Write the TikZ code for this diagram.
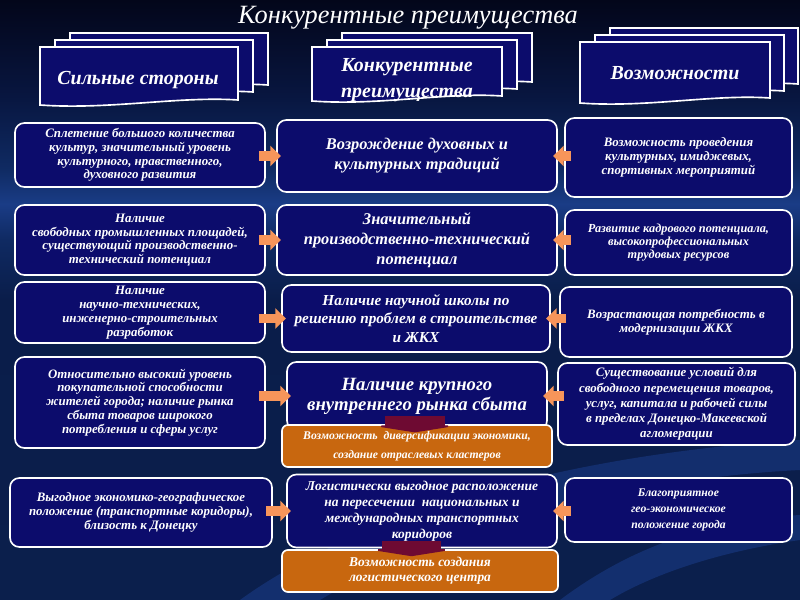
\documentclass[tikz,border=0pt]{standalone}
\usepackage{fontspec}
\setmainfont{Liberation Serif}
\usetikzlibrary{arrows.meta}

\definecolor{boxnavy}{HTML}{0C0C6C}
\definecolor{boxorange}{HTML}{C8670F}
\definecolor{arroworange}{HTML}{F7955A}
\definecolor{arrowmaroon}{HTML}{6E0A32}
\definecolor{bgtop}{HTML}{03061A}
\definecolor{bgdark}{HTML}{081640}
\definecolor{bgmid}{HTML}{0A1D4A}
\definecolor{bgmidb}{HTML}{0F2A62}
\definecolor{bgglow}{HTML}{1A3C86}
\definecolor{bgbot}{HTML}{0B1F4C}
\definecolor{swoosh}{HTML}{1B3F90}

\pgfdeclareverticalshading{slidebg}{100bp}{color(0bp)=(bgbot); color(25bp)=(bgbot); color(50bp)=(bgmid); color(55bp)=(bgmidb); color(58bp)=(bgglow); color(61bp)=(bgmidb); color(67bp)=(bgdark); color(75bp)=(bgtop); color(100bp)=(bgtop)}

\newcommand{\pxu}{0.03cm}
\newcommand{\bxfont}[2]{\fontsize{#1}{#2}\selectfont\bfseries\itshape}
\newcommand{\sheet}[4]{\draw[sheet] (#1,#2) -- (#3,#2) -- (#3,#4-5) .. controls ({#3-0.3*(#3-#1)},#4-9) and ({#1+0.35*(#3-#1)},#4+5) .. (#1,#4) -- cycle;}

\begin{document}
\begin{tikzpicture}[x=0.03cm,y=-0.03cm,
	lbox/.style={draw=white, line width=1.4pt, rounded corners=8pt, fill=boxnavy, text=white, align=center, inner sep=1pt, font=\bxfont{11}{11.8}},
	cbox/.style={lbox, font=\bxfont{14}{17}},
	obox/.style={lbox, fill=boxorange, rounded corners=5pt, font=\bxfont{10}{16}},
	sheet/.style={draw=white, line width=1.4pt, fill=boxnavy},
	headtext/.style={text=white, align=center, font=\bxfont{17}{22}},
	sidearrow/.style={draw=arroworange, line width=8pt, -{Triangle[length=9pt,width=17pt]}, shorten <=-6pt, shorten >=-4pt},
	downarrow/.style={draw=arrowmaroon, line width=51pt, -{Triangle[length=6pt,width=76pt]}}]
	\useasboundingbox (0,0) rectangle (800,600);
	\shade[shading=slidebg] (0,0) rectangle (800,600);
	\fill[swoosh, opacity=0.5] (240,600) .. controls (350,520) and (550,455) .. (800,440) -- (800,470) .. controls (600,480) and (420,540) .. (320,600) -- cycle;
	\fill[swoosh, opacity=0.5] (560,600) .. controls (640,540) and (720,520) .. (800,515) -- (800,540) .. controls (730,550) and (660,570) .. (610,600) -- cycle;

	\node[text=white, font=\fontsize{22.5}{26}\selectfont\itshape] (title) at (408,18) {Конкурентные преимущества};

	\sheet{70}{33}{268}{90}
	\sheet{55}{40}{253}{97}
	\sheet{40}{47}{238}{105}
	\sheet{342}{33}{532}{87}
	\sheet{327}{40}{517}{94}
	\sheet{312}{47}{502}{101}
	\sheet{610}{28}{798}{89}
	\sheet{595}{35}{784}{96}
	\sheet{580}{42}{770}{103}
	\node[headtext] (hstrong) at (138,80) {Сильные стороны};
	\node[headtext] (hcomp) at (407,80) {Конкурентные\\ преимущества};
	\node[headtext] (hopp) at (675,73) {Возможности};

	\node[lbox, minimum width=250*\pxu, minimum height=64*\pxu] (l1) at (140,155) {Сплетение большого количества\\ культур, значительный уровень\\ культурного, нравственного,\\ духовного развития};
	\node[lbox, minimum width=250*\pxu, minimum height=70*\pxu] (l2) at (140,240) {Наличие\\ свободных промышленных площадей,\\ существующий производственно-\\технический потенциал};
	\node[lbox, minimum width=250*\pxu, minimum height=61*\pxu] (l3) at (140,312.5) {Наличие\\ научно-технических,\\ инженерно-строительных\\ разработок};
	\node[lbox, minimum width=250*\pxu, minimum height=91*\pxu] (l4) at (140,402.5) {Относительно высокий уровень\\ покупательной способности\\ жителей города; наличие рынка\\ сбыта товаров широкого\\ потребления и сферы услуг};
	\node[lbox, minimum width=262*\pxu, minimum height=69*\pxu] (l5) at (141,512.5) {Выгодное экономико-географическое\\ положение (транспортные коридоры),\\ близость к Донецку};

	\node[cbox, minimum width=280*\pxu, minimum height=72*\pxu] (c1) at (417,156) {Возрождение духовных и\\ культурных традиций};
	\node[cbox, minimum width=280*\pxu, minimum height=70*\pxu] (c2) at (417,240) {Значительный\\ производственно-технический\\ потенциал};
	\node[cbox, minimum width=268*\pxu, minimum height=67*\pxu, font=\bxfont{13}{15.5}] (c3) at (416,318.5) {Наличие научной школы по\\ решению проблем в строительстве\\ и ЖКХ};
	\node[cbox, minimum width=260*\pxu, minimum height=68*\pxu, font=\bxfont{16}{17}] (c4) at (417,396) {Наличие крупного\\ внутреннего рынка сбыта};
	\node[obox, minimum width=270*\pxu, minimum height=42*\pxu] (o4) at (417,446) {Возможность\ \ диверсификации экономики,\\ создание отраслевых кластеров};
	\node[cbox, minimum width=270*\pxu, minimum height=73*\pxu, font=\bxfont{11.5}{13.6}] (c5) at (422,511) {Логистически выгодное расположение\\ на пересечении\ \ национальных и\\ международных транспортных\\ коридоров};
	\node[obox, minimum width=276*\pxu, minimum height=42*\pxu, font=\bxfont{11.5}{13}] (o5) at (420,571) {Возможность создания\\ логистического центра};

	\node[lbox, minimum width=227*\pxu, minimum height=79*\pxu] (r1) at (678.5,157.5) {Возможность проведения\\ культурных, имиджевых,\\ спортивных мероприятий};
	\node[lbox, minimum width=227*\pxu, minimum height=65*\pxu, font=\bxfont{10.5}{11.2}] (r2) at (678.5,242.5) {Развитие кадрового потенциала,\\ высокопрофессиональных\\ трудовых ресурсов};
	\node[lbox, minimum width=232*\pxu, minimum height=70*\pxu] (r3) at (676,322) {Возрастающая потребность в\\ модернизации ЖКХ};
	\node[lbox, minimum width=237*\pxu, minimum height=82*\pxu, font=\bxfont{11}{13}] (r4) at (676.5,404) {Существование условий для\\ свободного перемещения товаров,\\ услуг, капитала и рабочей силы\\ в пределах Донецко-Макеевской\\ агломерации};
	\node[lbox, minimum width=227*\pxu, minimum height=64*\pxu, font=\bxfont{10}{13.5}] (r5) at (678.5,510) {Благоприятное\\ гео-экономическое\\ положение города};

	\draw[sidearrow] (l1.east |- c1.west) -- (c1.west);
	\draw[sidearrow] (l2.east |- c2.west) -- (c2.west);
	\draw[sidearrow] (l3.east |- c3.west) -- (c3.west);
	\draw[sidearrow] (l4.east |- c4.west) -- (c4.west);
	\draw[sidearrow] (l5.east |- c5.west) -- (c5.west);
	\draw[sidearrow] (r1.west |- c1.east) -- (c1.east);
	\draw[sidearrow] (r2.west |- c2.east) -- (c2.east);
	\draw[sidearrow] (r3.west |- c3.east) -- (c3.east);
	\draw[sidearrow] (r4.west |- c4.east) -- (c4.east);
	\draw[sidearrow] (r5.west |- c5.east) -- (c5.east);

	\draw[downarrow] ([xshift=-2pt,yshift=13pt]c4.south) -- ([xshift=-2pt,yshift=-7pt]c4.south |- o4.north);
	\draw[downarrow] ([xshift=-9pt,yshift=6pt]c5.south) -- ([xshift=-9pt,yshift=-6pt]c5.south |- o5.north);
\end{tikzpicture}
\end{document}
